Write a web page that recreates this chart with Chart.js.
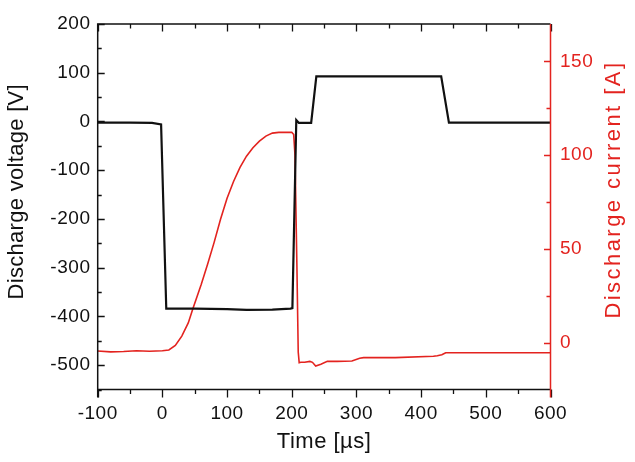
<!DOCTYPE html>
<html>
<head>
<meta charset="utf-8">
<script src="https://cdn.jsdelivr.net/npm/chart.js@4/dist/chart.umd.min.js"></script>
<style>
  html, body { margin: 0; padding: 0; background: #fff; }
  #wrap { width: 635px; height: 462px; }
</style>
</head>
<body>
<div id="wrap"><canvas id="c" width="635" height="462"></canvas></div>
<script>
// ---- data ----
const voltageTime = [-100, -50, -16, -2, 6, 50, 100, 130, 170, 198, 201, 207, 211, 230, 238, 431, 443, 600];
const voltageValues = [-2.5, -2.5, -3, -6, -384, -384, -385, -386.5, -386, -384, -383, 3, -3, -3, 92.5, 92.5, -2.5, -2.5];

const currentTime = [-100, -80, -60, -40, -20, 0, 10, 20, 30, 40, 47, 60, 70, 80, 90, 100, 110, 120, 130, 140, 150, 160, 170, 180, 200, 203, 205, 208, 210, 211.5, 214, 220, 228, 232, 237, 245, 255, 270, 293, 305, 311, 360, 419, 425, 432, 438, 600];
const currentValues = [-4.5, -4.9, -4.7, -4.3, -4.6, -4.3, -3.9, -1.5, 3.5, 10.5, 18, 31, 42, 53.5, 66, 77, 86, 93.5, 99.5, 104, 107.5, 110.2, 111.8, 112.2, 112.2, 111, 100, 40, -5, -10.7, -10.5, -10.5, -10, -10.5, -12.5, -11.5, -10, -10, -9.8, -8.3, -8, -8, -7.3, -7, -6.5, -5.4, -5.4];

const xTickLabels = [-100, 0, 100, 200, 300, 400, 500, 600];
const voltageTickLabels = [-500, -400, -300, -200, -100, 0, 100, 200];
const currentTickLabels = [0, 50, 100, 150];

const xTitle = 'Time [µs]';
const voltageTitle = 'Discharge voltage [V]';
const currentTitle = 'Discharge current [A]';

// ---- styling ----
const RED = '#e3231f';
const BLACK = '#111111';
const FONT = "'Liberation Sans', Arial, sans-serif";

const toPoints = (xs, ys) => xs.map((x, i) => ({ x: x, y: ys[i] }));

// shift / letter-space titles and labels
function wrapScale(scale, dy, titleSpacing, labelSpacing) {
  if (scale._wrapped) return;
  const origTitle = scale.drawTitle.bind(scale);
  const origLabels = scale.drawLabels.bind(scale);
  scale.drawTitle = function () {
    const ctx = scale.ctx;
    ctx.save();
    ctx.translate(0, dy);
    try { ctx.letterSpacing = titleSpacing + 'px'; } catch (e) {}
    origTitle();
    ctx.restore();
  };
  scale.drawLabels = function (area) {
    const ctx = scale.ctx;
    ctx.save();
    try { ctx.letterSpacing = labelSpacing + 'px'; } catch (e) {}
    origLabels(area);
    ctx.restore();
  };
  scale._wrapped = true;
}

const framePlugin = {
  id: 'frame',
  afterLayout(chart) {
    wrapScale(chart.scales.x, 0, 0.5, 0.5);
    wrapScale(chart.scales.y, -15, 0.3, 0.6);
    wrapScale(chart.scales.y1, 0, 0, 0.5);
  },
  afterDraw(chart) {
    const ctx = chart.ctx;
    const a = chart.chartArea;
    const xs = chart.scales.x, ys = chart.scales.y, rs = chart.scales.y1;
    ctx.save();
    ctx.lineCap = 'butt';
    ctx.lineWidth = 1.3;
    ctx.strokeStyle = BLACK;
    ctx.beginPath();
    for (let v = xs.min; v <= xs.max + 1e-9; v += 50) {
      const px = Math.round(xs.getPixelForValue(v)) + 0.5;
      const major = Math.abs(v % 100) < 1e-9;
      ctx.moveTo(px, a.bottom);
      ctx.lineTo(px, a.bottom + (major ? 8 : 4.5));
      ctx.moveTo(px, a.top);
      ctx.lineTo(px, a.top + (major ? 7.5 : 4.5));
    }
    for (let v = -550; v <= ys.max + 1e-9; v += 50) {
      const py = Math.round(ys.getPixelForValue(v)) + 0.5;
      const major = Math.abs(v % 100) < 1e-9;
      ctx.moveTo(a.left, py);
      ctx.lineTo(a.left + (major ? 7 : 4), py);
    }
    ctx.stroke();
    ctx.strokeStyle = RED;
    ctx.beginPath();
    for (let v = 0; v <= rs.max + 1e-9; v += 25) {
      const py = Math.round(rs.getPixelForValue(v)) + 0.5;
      const major = Math.abs(v % 50) < 1e-9;
      ctx.moveTo(a.right, py);
      ctx.lineTo(a.right - (major ? 6.5 : 4), py);
    }
    ctx.stroke();
    ctx.lineWidth = 1.5;
    ctx.strokeStyle = BLACK;
    ctx.beginPath();
    ctx.moveTo(a.left, a.bottom + 8);
    ctx.lineTo(a.left, a.top);
    ctx.lineTo(a.right, a.top);
    ctx.moveTo(a.left, a.bottom);
    ctx.lineTo(a.right, a.bottom);
    ctx.stroke();
    ctx.strokeStyle = RED;
    ctx.beginPath();
    ctx.moveTo(a.right, a.top);
    ctx.lineTo(a.right, a.bottom + 8);
    ctx.stroke();
    // right axis title (reads bottom-to-top, like the left one)
    ctx.fillStyle = RED;
    ctx.font = '22px ' + FONT;
    try { ctx.letterSpacing = '2.45px'; } catch (e) {}
    ctx.textAlign = 'center';
    ctx.textBaseline = 'middle';
    ctx.translate(rs.right - 21, (a.top + a.bottom) / 2 - 16);
    ctx.rotate(-Math.PI / 2);
    ctx.fillText(currentTitle, 1.2, 0);
    ctx.restore();
  }
};

new Chart(document.getElementById('c'), {
  type: 'line',
  data: {
    datasets: [
      {
        label: 'Voltage',
        data: toPoints(voltageTime, voltageValues),
        yAxisID: 'y',
        borderColor: BLACK,
        borderWidth: 2.2,
        pointRadius: 0,
        tension: 0,
        fill: false,
        order: 1
      },
      {
        label: 'Current',
        data: toPoints(currentTime, currentValues),
        yAxisID: 'y1',
        borderColor: RED,
        borderWidth: 1.6,
        pointRadius: 0,
        tension: 0,
        fill: false,
        order: 2
      }
    ]
  },
  plugins: [framePlugin],
  options: {
    responsive: false,
    animation: false,
    events: [],
    layout: { padding: { top: 24, left: 0, right: 0, bottom: 0 } },
    plugins: { legend: { display: false }, tooltip: { enabled: false } },
    scales: {
      x: {
        type: 'linear',
        position: 'bottom',
        min: -100,
        max: 600,
        afterBuildTicks: s => { s.ticks = xTickLabels.map(v => ({ value: v })); },
        ticks: { color: BLACK, font: { family: FONT, size: 19 }, padding: 13, maxRotation: 0, autoSkip: false },
        grid: { display: false, drawTicks: false },
        border: { display: false },
        title: { display: true, text: xTitle, color: BLACK, font: { family: FONT, size: 22 }, padding: { top: 0, bottom: 7 } },
        afterFit: s => { s.height = 72.5; }
      },
      y: {
        type: 'linear',
        position: 'left',
        min: -550,
        max: 200,
        afterBuildTicks: s => { s.ticks = voltageTickLabels.map(v => ({ value: v })); },
        ticks: { color: BLACK, font: { family: FONT, size: 19 }, padding: 7, autoSkip: false },
        grid: { display: false, drawTicks: false },
        border: { display: false },
        title: { display: true, text: voltageTitle, color: BLACK, font: { family: FONT, size: 22 }, padding: { top: 4, bottom: 0 } },
        afterFit: s => { s.width = 97.7; }
      },
      y1: {
        type: 'linear',
        position: 'right',
        min: -25,
        max: 170,
        afterBuildTicks: s => { s.ticks = currentTickLabels.map(v => ({ value: v })); },
        ticks: { color: RED, font: { family: FONT, size: 19 }, padding: 9.5, autoSkip: false },
        grid: { display: false, drawTicks: false },
        border: { display: false },
        title: { display: false, text: currentTitle },
        afterFit: s => { s.width = 84.5; }
      }
    }
  }
});
</script>
</body>
</html>
